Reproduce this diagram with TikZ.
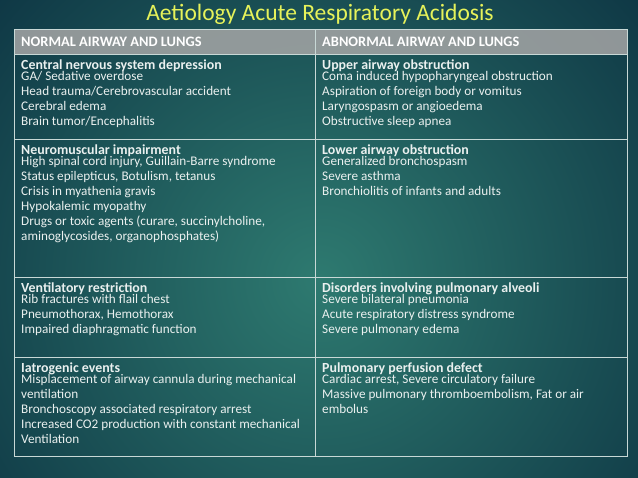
\documentclass[tikz,border=0pt]{standalone}
\usepackage{fontspec}
\setmainfont{Carlito}
\newcommand{\cellbody}[1]{\begin{tabular}[t]{@{}l@{}}#1\end{tabular}}
\begin{document}
\begin{tikzpicture}[x=1pt,y=-1pt,
  hd/.style={anchor=base west,inner sep=0pt,font=\fontsize{13.9}{14}\selectfont\bfseries,text=txt},
  th/.style={anchor=base west,inner sep=0pt,font=\fontsize{14.4}{14}\selectfont\bfseries,text=white},
  bd/.style={anchor=base west,inner sep=0pt,font=\fontsize{13.2}{15}\selectfont,text=txt},
  grid/.style={draw=lineC,line width=1pt}]
\definecolor{txt}{HTML}{EAF0EF}
\definecolor{lineC}{HTML}{C8D8D6}
\definecolor{bgin}{HTML}{2E7A70}
\definecolor{bgout}{HTML}{0E3644}
\definecolor{ttl}{HTML}{E6F25A}
\useasboundingbox (0,0) rectangle (638,478);
\shade[inner color=bgin,outer color=bgout] (-120,-160) rectangle (760,720);
\node[anchor=base,inner sep=0pt,font=\fontsize{23.5}{24}\selectfont,text=ttl] (title) at (320,21) {Aetiology Acute Respiratory Acidosis};
\fill[gray!70!white,opacity=0.85] (14,30) rectangle (627,55);
\draw[grid] (14,30) rectangle (627,457);
\draw[grid] (315,30) -- (315,457);
\foreach \y in {55,140,278,358} \draw[grid] (14,\y) -- (627,\y);
\node[th] (h1) at (21,47) {NORMAL AIRWAY AND LUNGS};
\node[th] (h2) at (322,47) {ABNORMAL AIRWAY AND LUNGS};
% row 1
\node[hd] (a1) at (21,70) {Central nervous system depression};
\node[bd] (a1b) at (21,81) {\cellbody{GA/ Sedative overdose\\Head trauma/Cerebrovascular accident\\Cerebral edema\\Brain tumor/Encephalitis}};
\node[hd] (b1) at (322,70) {Upper airway obstruction};
\node[bd] (b1b) at (322,81) {\cellbody{Coma induced hypopharyngeal obstruction\\Aspiration of foreign body or vomitus\\Laryngospasm or angioedema\\Obstructive sleep apnea}};
% row 2
\node[hd] (a2) at (21,155) {Neuromuscular impairment};
\node[bd] (a2b) at (21,166) {\cellbody{High spinal cord injury, Guillain-Barre syndrome\\Status epilepticus, Botulism, tetanus\\Crisis in myathenia gravis\\Hypokalemic myopathy\\Drugs or toxic agents (curare, succinylcholine,\\aminoglycosides, organophosphates)}};
\node[hd] (b2) at (322,155) {Lower airway obstruction};
\node[bd] (b2b) at (322,166) {\cellbody{Generalized bronchospasm\\Severe asthma\\Bronchiolitis of infants and adults}};
% row 3
\node[hd] (a3) at (21,293) {Ventilatory restriction};
\node[bd] (a3b) at (21,304) {\cellbody{Rib fractures with flail chest\\Pneumothorax, Hemothorax\\Impaired diaphragmatic function}};
\node[hd] (b3) at (322,293) {Disorders involving pulmonary alveoli};
\node[bd] (b3b) at (322,304) {\cellbody{Severe bilateral pneumonia\\Acute respiratory distress syndrome\\Severe pulmonary edema}};
% row 4
\node[hd] (a4) at (21,373) {Iatrogenic events};
\node[bd] (a4b) at (21,384) {\cellbody{Misplacement of airway cannula during mechanical\\ventilation\\Bronchoscopy associated respiratory arrest\\Increased CO2 production with constant mechanical\\Ventilation}};
\node[hd] (b4) at (322,373) {Pulmonary perfusion defect};
\node[bd] (b4b) at (322,384) {\cellbody{Cardiac arrest, Severe circulatory failure\\Massive pulmonary thromboembolism, Fat or air\\embolus}};
\end{tikzpicture}
\end{document}
